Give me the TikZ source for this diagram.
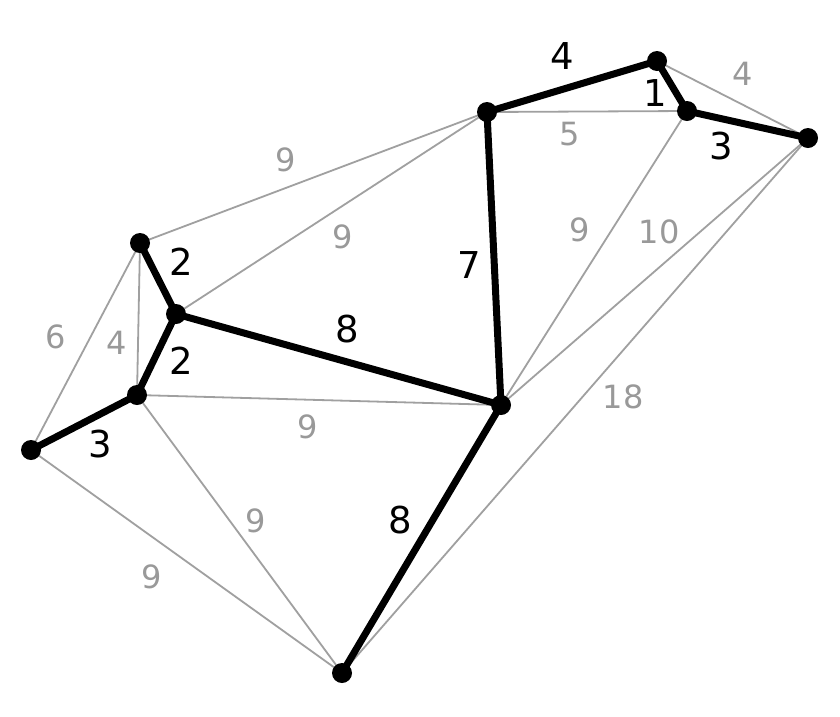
\documentclass[tikz,border=0pt]{standalone}
\usepackage{fontspec}
\setmainfont{DejaVu Sans}
\definecolor{edgegray}{HTML}{A0A0A0}
\definecolor{labgray}{HTML}{999999}
\begin{document}
\begin{tikzpicture}[x=1pt,y=-1pt,
  vtx/.style={circle,fill=black,inner sep=0pt,minimum size=20pt},
  light/.style={draw=edgegray,line width=1.8pt},
  heavy/.style={draw=black,line width=7pt,line cap=round},
  blab/.style={font=\fontsize{37}{37}\selectfont,text=black,inner sep=0pt},
  glab/.style={font=\fontsize{32}{32}\selectfont,text=labgray,inner sep=0pt}]
\useasboundingbox[fill=white] (0,0) rectangle (840,716);
% vertices
\coordinate (A) at (140,243);
\coordinate (B) at (176,314);
\coordinate (C) at (137,395);
\coordinate (D) at (31,450);
\coordinate (E) at (501,405);
\coordinate (F) at (487,112);
\coordinate (G) at (657,61);
\coordinate (H) at (687,111);
\coordinate (I) at (808,138);
\coordinate (J) at (342,673);
% light edges
\draw[light] (A) -- (F);
\draw[light] (B) -- (F);
\draw[light] (A) -- (D);
\draw[light] (A) -- (C);
\draw[light] (C) -- (E);
\draw[light] (C) -- (J);
\draw[light] (D) -- (J);
\draw[light] (E) -- (H);
\draw[light] (E) -- (I);
\draw[light] (J) -- (I);
\draw[light] (F) -- (H);
\draw[light] (G) -- (I);
% heavy edges
\draw[heavy] (A) -- (B);
\draw[heavy] (B) -- (C);
\draw[heavy] (C) -- (D);
\draw[heavy] (B) -- (E);
\draw[heavy] (E) -- (F);
\draw[heavy] (E) -- (J);
\draw[heavy] (F) -- (G);
\draw[heavy] (G) -- (H);
\draw[heavy] (H) -- (I);
% dots
\foreach \v in {A,B,C,D,E,F,G,H,I,J} \node[vtx] (n\v) at (\v) {};
% heavy labels
\node[blab] (lFG) at (562,56) {4};
\node[blab] (lGH) at (655,93) {1};
\node[blab] (lHI) at (721,146) {3};
\node[blab] (lEF) at (469,265) {7};
\node[blab] (lAB) at (181,262) {2};
\node[blab] (lBE) at (347,329) {8};
\node[blab] (lBC) at (181,361) {2};
\node[blab] (lCD) at (100,444) {3};
\node[blab] (lEJ) at (400,520) {8};
% light labels
\node[glab] (lGI) at (743,74) {4};
\node[glab] (lFH) at (570,134) {5};
\node[glab] (lEH) at (580,230) {9};
\node[glab] (lEI) at (659,232) {10};
\node[glab] (lAF) at (286,160) {9};
\node[glab] (lBF) at (343,237) {9};
\node[glab] (lAD) at (56,337) {6};
\node[glab] (lAC) at (117,343) {4};
\node[glab] (lCE) at (308,427) {9};
\node[glab] (lJI) at (623,397) {18};
\node[glab] (lCJ) at (256,521) {9};
\node[glab] (lDJ) at (152,577) {9};
\end{tikzpicture}
\end{document}
